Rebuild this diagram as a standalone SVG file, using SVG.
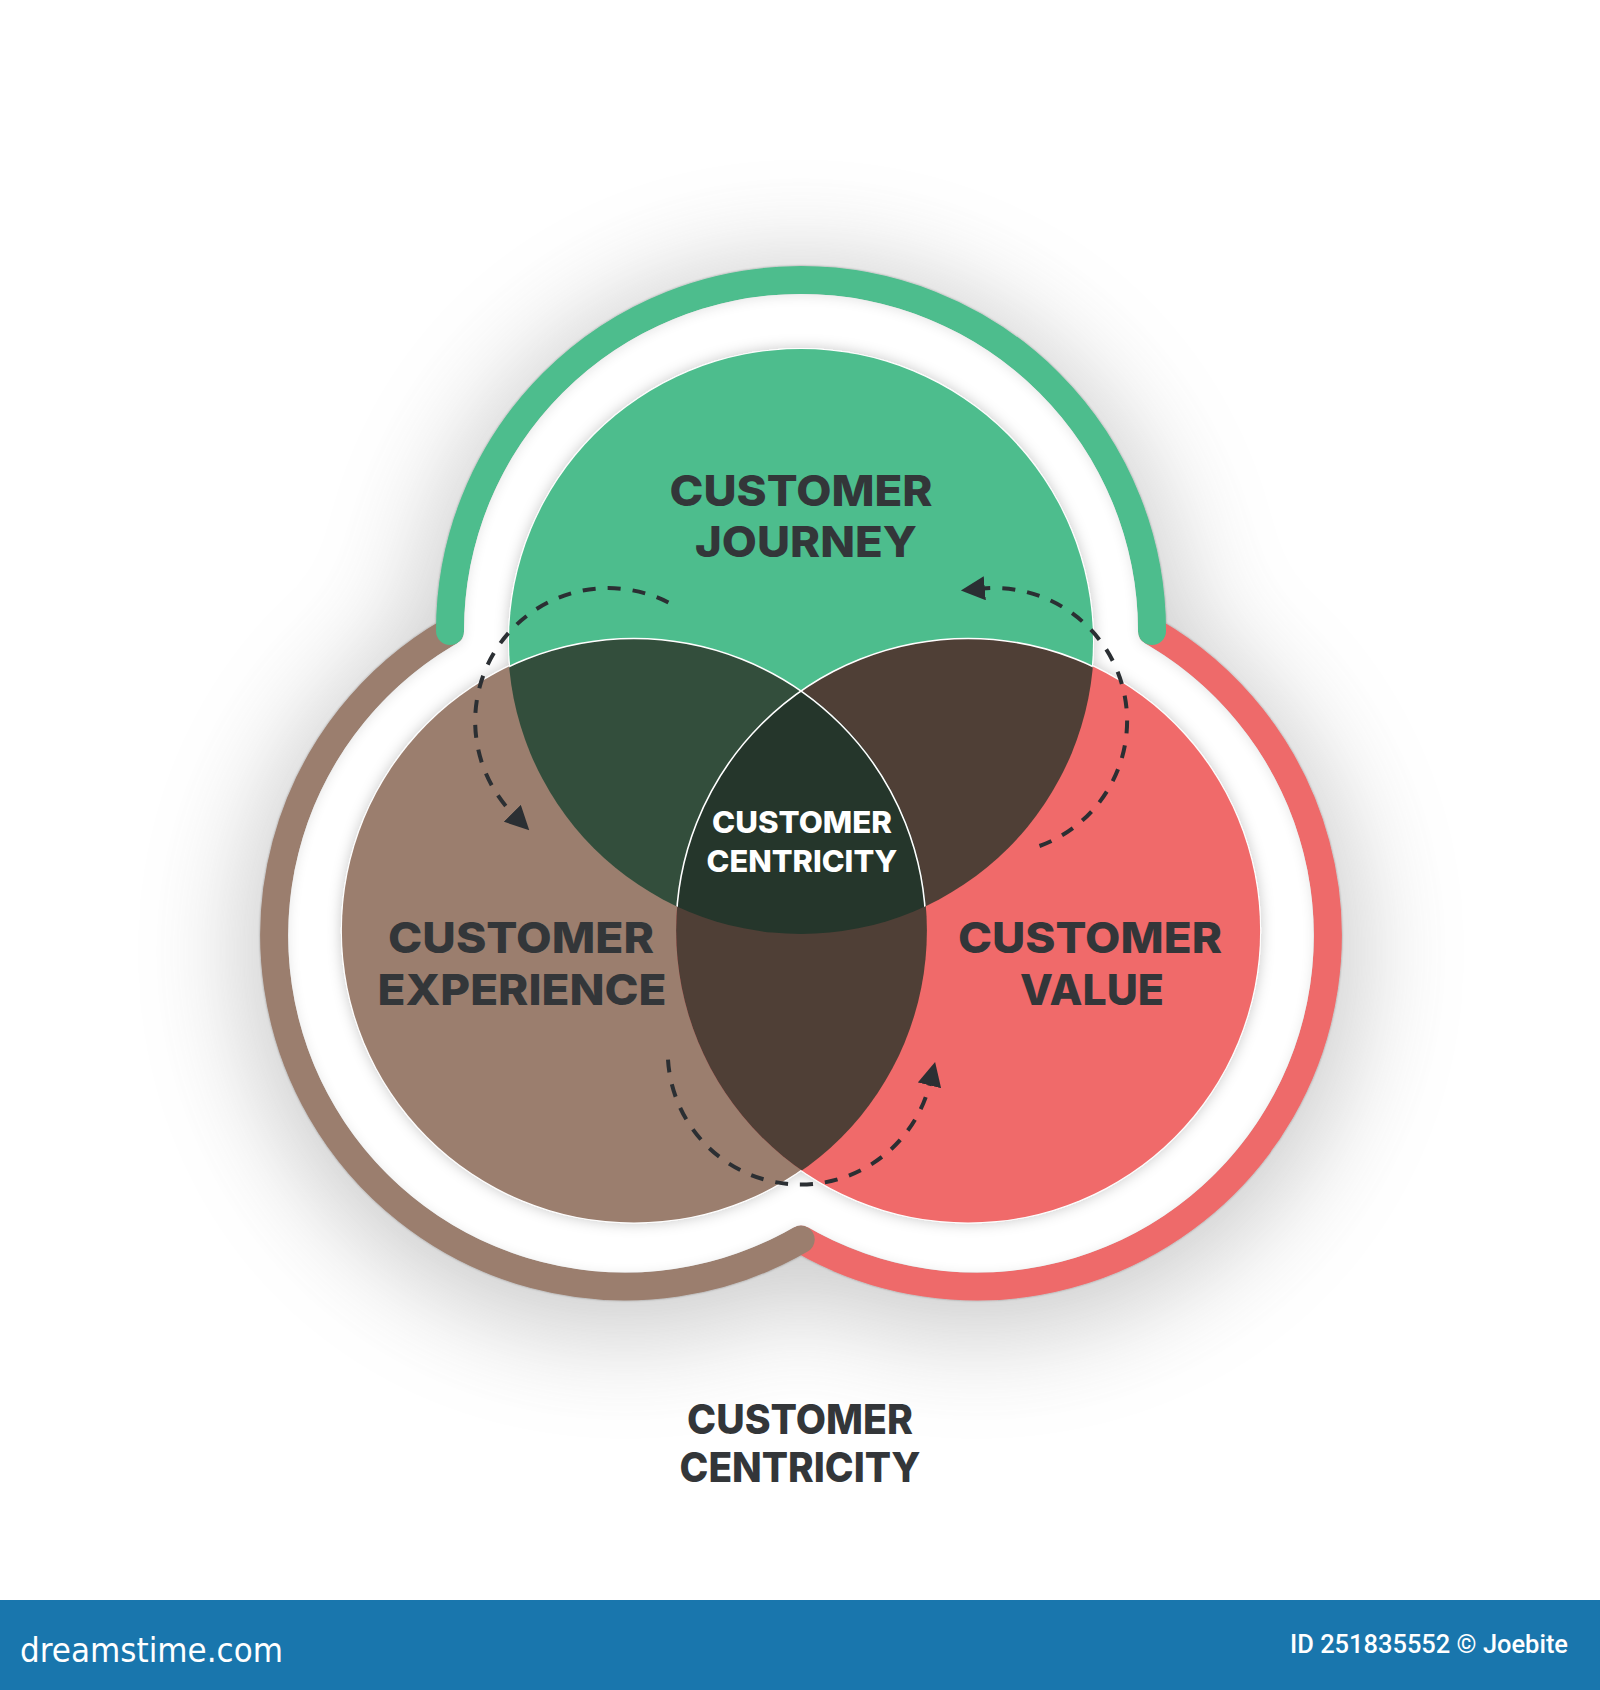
<svg xmlns="http://www.w3.org/2000/svg" width="1600" height="1690" viewBox="0 0 1600 1690">
  <style>
    .lbl { font-family: Inter, 'Open Sans', 'Liberation Sans', sans-serif; font-weight: 800; fill: #333639; text-anchor: middle; }
    .lblw { font-family: Inter, 'Open Sans', 'Liberation Sans', sans-serif; font-weight: 800; fill: #ffffff; text-anchor: middle; }
    .band { fill: none; stroke-width: 28; stroke-linecap: round; }
    .dash { fill: none; stroke: #2b2f33; stroke-width: 4; stroke-dasharray: 13 12; marker-end: url(#arrow); }
  </style>
  <defs>
    <filter id="bigShadow" x="-40%" y="-40%" width="180%" height="180%">
      <feGaussianBlur stdDeviation="50"/>
    </filter>
    <filter id="bandSh" x="-10%" y="-10%" width="120%" height="120%">
      <feDropShadow dx="0" dy="0" stdDeviation="1.3" flood-color="#000" flood-opacity="0.35"/>
    </filter>
    <filter id="innerSh" x="-10%" y="-10%" width="120%" height="120%">
      <feFlood flood-color="#000" flood-opacity="0.22" result="f"/>
      <feComposite in="f" in2="SourceAlpha" operator="out" result="o"/>
      <feGaussianBlur in="o" stdDeviation="6" result="b"/>
      <feOffset in="b" dx="0" dy="2" result="bo"/>
      <feComposite in="bo" in2="SourceAlpha" operator="in" result="s"/>
      <feMerge><feMergeNode in="SourceGraphic"/><feMergeNode in="s"/></feMerge>
    </filter>
    <filter id="circSh" x="-20%" y="-20%" width="140%" height="140%">
      <feDropShadow dx="0" dy="0" stdDeviation="7" flood-color="#000" flood-opacity="0.22"/>
    </filter>
    <clipPath id="cG"><circle cx="801" cy="641" r="293"/></clipPath>
    <clipPath id="cB"><circle cx="633.9" cy="930.5" r="293"/></clipPath>
    <marker id="arrow" viewBox="0 0 10 10" refX="1" refY="5" markerWidth="6" markerHeight="6" markerUnits="strokeWidth" orient="auto">
      <path d="M0,0 L10,5 L0,10 Z" fill="#2b2f33"/>
    </marker>
  </defs>

  <rect width="1600" height="1690" fill="#ffffff"/>

  <!-- soft background shadow -->
  <g filter="url(#bigShadow)" opacity="0.36" transform="translate(0,16)">
    <circle cx="801" cy="631" r="385" fill="#777"/>
    <circle cx="625.2" cy="935.5" r="385" fill="#777"/>
    <circle cx="976.8" cy="935.5" r="385" fill="#777"/>
  </g>

  <!-- coloured outer bands -->
  <g id="bands" filter="url(#bandSh)">
    <path class="band" stroke="#ee6a6a" d="M1152.3 631.5 A351 351 0 0 1 801.3 1239.5"/>
    <path class="band" stroke="#9b7e6e" d="M449.7 631.5 A351 351 0 0 0 800.7 1239.5"/>
    <path class="band" stroke="#4dbd8d" d="M450 631 A351 351 0 0 1 1152 631"/>
  </g>

  <!-- white ring body -->
  <g id="whiteRing" filter="url(#innerSh)" fill="#ffffff">
    <circle cx="801" cy="631" r="337"/>
    <circle cx="625.2" cy="935.5" r="337"/>
    <circle cx="976.8" cy="935.5" r="337"/>
    <path d="M464 631.3 A14 14 0 0 1 457 643.5 L801 834 Z"/>
    <path d="M1138 631.3 A14 14 0 0 0 1145 643.5 L801 834 Z"/>
    <path d="M794 1227.2 A14 14 0 0 1 808 1227.2 L801 834 Z"/>
  </g>

  <!-- inner circles -->
  <g id="circles">
    <g filter="url(#circSh)">
      <circle cx="801" cy="641" r="293" fill="#ffffff"/>
      <circle cx="633.9" cy="930.5" r="293" fill="#ffffff"/>
      <circle cx="968.1" cy="930.5" r="293" fill="#ffffff"/>
    </g>
    <g id="node-journey"><circle cx="801" cy="641" r="292" fill="#4dbd8d"/></g>
    <g id="node-experience"><circle cx="633.9" cy="930.5" r="292" fill="#9b7e6e"/></g>
    <g id="node-value"><circle cx="968.1" cy="930.5" r="292" fill="#f06a6a"/></g>
    <circle cx="633.9" cy="930.5" r="292" fill="#334e3c" clip-path="url(#cG)"/>
    <circle cx="968.1" cy="930.5" r="292" fill="#4f3f36" clip-path="url(#cG)"/>
    <circle cx="968.1" cy="930.5" r="292" fill="#4f3f36" clip-path="url(#cB)"/>
    <g clip-path="url(#cB)">
      <circle cx="968.1" cy="930.5" r="292" fill="#25362b" clip-path="url(#cG)"/>
    </g>
    <g clip-path="url(#cG)" fill="none" stroke="#ffffff" stroke-width="1.6">
      <circle cx="633.9" cy="930.5" r="292"/>
      <circle cx="968.1" cy="930.5" r="292"/>
    </g>
  </g>

  <!-- labels -->
  <g id="label-journey">
    <text class="lbl" x="801" y="506" font-size="43" textLength="263" lengthAdjust="spacingAndGlyphs">CUSTOMER</text>
    <text class="lbl" x="806" y="557" font-size="43" textLength="222" lengthAdjust="spacingAndGlyphs">JOURNEY</text>
  </g>
  <g id="label-experience">
    <text class="lbl" x="521" y="953" font-size="43" textLength="266" lengthAdjust="spacingAndGlyphs">CUSTOMER</text>
    <text class="lbl" x="522" y="1005" font-size="43" textLength="289" lengthAdjust="spacingAndGlyphs">EXPERIENCE</text>
  </g>
  <g id="label-value">
    <text class="lbl" x="1090" y="953" font-size="43" textLength="264" lengthAdjust="spacingAndGlyphs">CUSTOMER</text>
    <text class="lbl" x="1092" y="1005" font-size="43" textLength="144" lengthAdjust="spacingAndGlyphs">VALUE</text>
  </g>
  <g id="label-centricity">
    <text class="lblw" x="802" y="833" font-size="30" textLength="180" lengthAdjust="spacingAndGlyphs">CUSTOMER</text>
    <text class="lblw" x="802" y="872" font-size="30" textLength="191" lengthAdjust="spacingAndGlyphs">CENTRICITY</text>
  </g>

  <!-- connectors (dashed cycle arrows) -->
  <g id="connectors">
    <path class="dash" d="M668.4 602.5 A133 133 0 0 0 514 815"/>
    <path class="dash" d="M668 1059.6 A133 133 0 0 0 930 1083"/>
    <path class="dash" d="M1039.5 846 A133 133 0 0 0 982.4 588.5"/>
  </g>

  <!-- title -->
  <g id="title">
    <text class="lbl" x="800" y="1434" font-size="41" textLength="226" lengthAdjust="spacingAndGlyphs">CUSTOMER</text>
    <text class="lbl" x="800" y="1482" font-size="41" textLength="241" lengthAdjust="spacingAndGlyphs">CENTRICITY</text>
  </g>

  <!-- footer banner -->
  <g id="banner">
    <rect x="0" y="1600" width="1600" height="90" fill="#1976ad"/>
    <text x="20" y="1662" font-family="'DejaVu Sans', 'Open Sans', sans-serif" font-size="34" fill="#ffffff" textLength="263" lengthAdjust="spacingAndGlyphs">dreamstime.com</text>
    <text x="1290" y="1653" font-family="Roboto, 'Liberation Sans', sans-serif" font-weight="500" font-size="25" fill="#ffffff" textLength="278" lengthAdjust="spacingAndGlyphs">ID 251835552 © Joebite</text>
  </g>
</svg>
